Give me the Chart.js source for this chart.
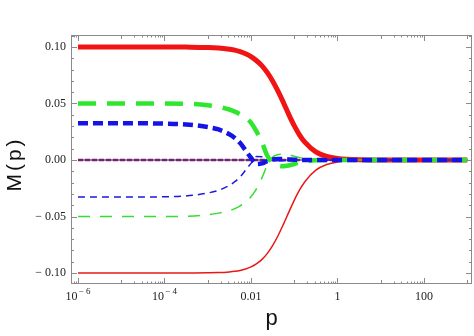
<!DOCTYPE html>
<html>
<head>
<meta charset="utf-8">
<script src="https://cdn.jsdelivr.net/npm/chart.js@4.4.1/dist/chart.umd.min.js"></script>
<style>
  body { margin: 0; background: #fff; }
</style>
</head>
<body>
<canvas id="graficoM" width="474" height="336"></canvas>
<script>
// valores de p (eje log) compartidos por todas las curvas
const p = [1e-6, 1e-5, 1e-4, 3.16e-4, 1e-3, 1.78e-3, 3.16e-3, 4.22e-3, 5.62e-3, 7.5e-3,
           0.01, 0.0133, 0.0178, 0.0237, 0.0316, 0.0422, 0.0562, 0.075, 0.1, 0.133,
           0.178, 0.316, 0.562, 1, 3.16, 10, 100, 1000];

const rojoGrueso = [0.1, 0.1, 0.1, 0.0999, 0.0996, 0.0991, 0.0980, 0.0972, 0.0958, 0.0940,
                    0.0915, 0.0880, 0.0835, 0.0775, 0.0700, 0.0610, 0.0509, 0.0402, 0.0304, 0.0221,
                    0.0156, 0.0072, 0.0032, 0.0014, 0.0002, 0, 0, 0];
const rojoFino = [-0.1, -0.1, -0.1, -0.0999, -0.0998, -0.0996, -0.0990, -0.0985, -0.0977, -0.0964,
                  -0.0946, -0.0919, -0.0881, -0.0828, -0.0758, -0.0670, -0.0569, -0.0461, -0.0357, -0.0265,
                  -0.0190, -0.0090, -0.0040, -0.0017, -0.0003, 0, 0, 0];
const verdeGrueso = [0.05, 0.05, 0.05, 0.0498, 0.0485, 0.0470, 0.0447, 0.0428, 0.0405, 0.0378,
                     0.0330, 0.0255, 0.0160, 0.0040, -0.0030, -0.0050, -0.0055, -0.0048, -0.0035, -0.0022,
                     -0.0012, -0.0003, 0, 0, 0, 0, 0, 0];
const verdeFino = [-0.05, -0.05, -0.05, -0.0498, -0.0485, -0.0470, -0.0448, -0.0430, -0.0405, -0.0370,
                   -0.0325, -0.0258, -0.0160, -0.0050, 0.0025, 0.0048, 0.0052, 0.0045, 0.0033, 0.0021,
                   0.0012, 0.0003, 0, 0, 0, 0, 0, 0];
const azulGrueso = [0.0325, 0.0325, 0.0322, 0.0315, 0.0292, 0.0270, 0.0228, 0.0195, 0.0150, 0.0085,
                    0.0020, -0.0035, -0.0030, -0.0010, 0.0005, 0.0010, 0.0008, 0.0005, 0.0003, 0,
                    0, 0, 0, 0, 0, 0, 0, 0];
const azulFino = [-0.0328, -0.0328, -0.0325, -0.0318, -0.0292, -0.0268, -0.0225, -0.0192, -0.0150, -0.0090,
                  -0.0030, 0.0030, 0.0028, 0.0010, -0.0005, -0.0008, -0.0006, -0.0004, -0.0002, 0,
                  0, 0, 0, 0, 0, 0, 0, 0];
const cero = [0, 0, 0, 0, 0, 0, 0, 0, 0, 0, 0, 0, 0, 0, 0, 0, 0, 0, 0, 0, 0, 0, 0, 0, 0, 0, 0, 0];

const xTicks = [1e-6, 1e-4, 0.01, 1, 100];
const xTickBase = ['10', '10', '0.01', '1', '100'];
const xTickExp = ['\u2212 6', '\u2212 4', '', '', ''];
const yTicks = [-0.1, -0.05, 0, 0.05, 0.1];
const yTickLabels = ['\u2212 0.10', '\u2212 0.05', '0.00', '0.05', '0.10'];

function puntos(valores) {
    return p.map((x, i) => ({x: x, y: valores[i]}));
}

// marco con marcas hacia dentro (estilo Mathematica) + etiquetas con exponente
const marco = {
    id: 'marco',
    afterDatasetsDraw(chart) {
        const {ctx, chartArea: a, scales: {x, y}} = chart;
        ctx.save();
        ctx.strokeStyle = '#8a8a8a';
        ctx.lineWidth = 1;
        ctx.strokeRect(a.left + 0.5, a.top + 0.5, a.right - a.left - 1, a.bottom - a.top - 1);
        ctx.beginPath();
        const marcaX = (v, len) => {
            const px = Math.round(x.getPixelForValue(v)) + 0.5;
            if (px < a.left || px > a.right) return;
            ctx.moveTo(px, a.bottom); ctx.lineTo(px, a.bottom - len);
            ctx.moveTo(px, a.top); ctx.lineTo(px, a.top + len);
        };
        const marcaY = (v, len) => {
            const py = Math.round(y.getPixelForValue(v)) + 0.5;
            if (py < a.top || py > a.bottom) return;
            ctx.moveTo(a.left, py); ctx.lineTo(a.left + len, py);
            ctx.moveTo(a.right, py); ctx.lineTo(a.right - len, py);
        };
        xTicks.concat([1e4]).forEach(v => {
            marcaX(v, 6);
            for (let j = 1; j <= 9; j++) marcaX(v / 100 * 10 * j, j === 1 ? 4 : 2.5);
        });
        for (let k = -11; k <= 11; k++) marcaY(k / 100, k % 5 === 0 ? 6 : 3);
        ctx.stroke();

        // etiquetas del eje x
        ctx.fillStyle = '#222';
        ctx.textBaseline = 'alphabetic';
        ctx.textAlign = 'left';
        xTicks.forEach((v, i) => {
            const px = x.getPixelForValue(v);
            ctx.font = '12px "Liberation Serif"';
            const wb = ctx.measureText(xTickBase[i]).width;
            ctx.font = '9px "Liberation Serif"';
            const we = xTickExp[i] ? ctx.measureText(xTickExp[i]).width + 1 : 0;
            const x0 = px - (wb + we) / 2;
            ctx.font = '12px "Liberation Serif"';
            ctx.fillText(xTickBase[i], x0, 300);
            if (we) {
                ctx.font = '9px "Liberation Serif"';
                ctx.fillText(xTickExp[i], x0 + wb + 1, 294);
            }
        });

        // titulo del eje y
        ctx.translate(15, 164);
        ctx.rotate(-Math.PI / 2);
        ctx.font = '21px "Liberation Sans"';
        if ('letterSpacing' in ctx) ctx.letterSpacing = '3px';
        ctx.fillStyle = '#111';
        ctx.textAlign = 'center';
        ctx.textBaseline = 'middle';
        ctx.fillText('M(p)', 0, 0);
        ctx.restore();
    }
};

document.addEventListener('DOMContentLoaded', function () {
    const ctx = document.getElementById('graficoM').getContext('2d');
    const base = {pointRadius: 0, fill: false, cubicInterpolationMode: 'monotone'};
    new Chart(ctx, {
        type: 'line',
        data: {
            datasets: [
                {...base, data: puntos(azulGrueso), borderColor: '#1414e6', borderWidth: 4.5, borderDash: [10, 5]},
                {...base, data: puntos(verdeGrueso), borderColor: '#2ee62e', borderWidth: 4.5, borderDash: [18, 11]},
                {...base, data: puntos(azulFino), borderColor: '#1a1ae0', borderWidth: 1.5, borderDash: [7, 5]},
                {...base, data: puntos(verdeFino), borderColor: '#33dd33', borderWidth: 1.5, borderDash: [12, 10]},
                {...base, data: puntos(rojoGrueso), borderColor: '#f01414', borderWidth: 5},
                {...base, data: puntos(rojoFino), borderColor: '#e81818', borderWidth: 1.5},
                {...base, data: puntos(cero), borderColor: '#7a1f7a', borderWidth: 2.5, borderDash: [5, 2]},
                {...base, data: puntos(cero), borderColor: '#2a0a35', borderWidth: 1}
            ]
        },
        options: {
            responsive: false,
            animation: false,
            devicePixelRatio: 1,
            layout: {padding: {left: 0, right: 2, top: 35, bottom: 0}},
            plugins: {legend: {display: false}, tooltip: {enabled: false}},
            scales: {
                x: {
                    type: 'logarithmic',
                    min: 6.9e-7,
                    max: 1290,
                    afterBuildTicks: s => { s.ticks = xTicks.map(v => ({value: v})); },
                    afterFit: s => { s.height = 52; },
                    grid: {display: false, drawTicks: false},
                    border: {display: false},
                    ticks: {display: false},
                    title: {
                        display: true, text: 'p', color: '#111',
                        font: {family: 'Liberation Sans', size: 22},
                        padding: {top: 0, bottom: 4}
                    }
                },
                y: {
                    min: -0.1097,
                    max: 0.1106,
                    afterBuildTicks: s => { s.ticks = yTicks.map(v => ({value: v})); },
                    afterFit: s => { s.width = 71; },
                    grid: {display: false, drawTicks: false},
                    border: {display: false},
                    ticks: {
                        autoSkip: false, padding: 5,
                        color: '#222', font: {family: 'Liberation Serif', size: 12},
                        callback: (v, i) => yTickLabels[i]
                    },
                    title: {display: false}
                }
            }
        },
        plugins: [marco]
    });
});
</script>
</body>
</html>
